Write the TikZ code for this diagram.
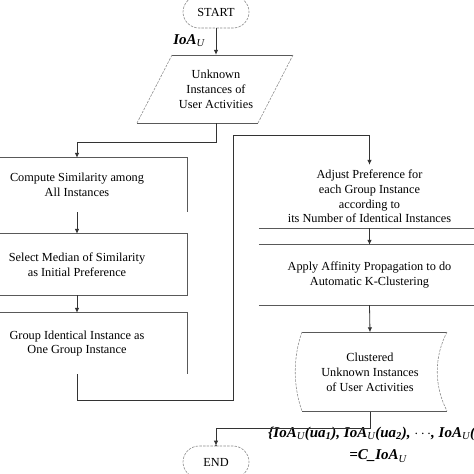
\documentclass[tikz,border=0pt]{standalone}
\usepackage{fontspec}
\setmainfont{Liberation Serif}
\usetikzlibrary{arrows.meta,shapes.misc}
\begin{document}
\begin{tikzpicture}[x=1pt,y=-1pt,
  txt/.style={font=\fontsize{12.3}{14.8}\selectfont, align=center, inner sep=0pt},
  lbl/.style={font=\fontsize{15}{17}\selectfont\bfseries\itshape, inner sep=0pt},
  edge/.style={draw=black!65, line width=0.8pt},
  flow/.style={draw=black!80, line width=0.8pt, -{Latex[length=5pt,width=4.5pt]}},
  dsh/.style={draw=black!45, line width=0.6pt, dash pattern=on 2.5pt off 1.2pt},
  term/.style={txt, shape=rounded rectangle, minimum width=66pt, minimum height=32pt, dsh},
  boxn/.style={txt, minimum width=220pt}
]
\useasboundingbox (0,0) rectangle (474,474);
\clip (0,0) rectangle (474,474);

% terminals
\node[term] (start) at (216,12) {START};
\draw[edge] ([xshift=16pt]start.north west) -- ([xshift=-16pt]start.north east);
\node[term] (end) at (216,462) {END};
\draw[edge] ([xshift=16pt]end.north west) -- ([xshift=-16pt]end.north east);

% input parallelogram
\node[txt, minimum width=120pt, minimum height=68pt] (inp) at (216,89) {Unknown\\Instances of\\User Activities};
\draw[edge] (172,55) -- (293,55);
\draw[edge] (137,123) -- (258,123);
\draw[dsh] (172,55) -- (137,123);
\draw[dsh] (293,55) -- (258,123);
\node[lbl] (ioa) at (189,41) {IoA\textsubscript{\textmd{U}}};

% left boxes
\node[boxn, minimum height=54pt] (b1) at (77,185) {Compute Similarity among\\All Instances};
\draw[edge] (b1.north west) -- (b1.north east) -- (b1.south east);
\node[boxn, minimum height=61pt] (b2) at (77,264.5) {Select Median of Similarity\\as Initial Preference};
\draw[edge] (b2.north west) -- (b2.north east) -- (b2.south east) -- (b2.south west);
\node[boxn, minimum height=61pt] (b3) at (77,343.5) {Group Identical Instance as\\One Group Instance};
\draw[edge] (b3.north west) -- (b3.north east) -- (b3.south east);

% right boxes
\node[txt, minimum width=221pt, minimum height=63pt] (r1) at (369.5,196.5) {Adjust Preference for\\each Group Instance\\according to\\its Number of Identical Instances};
\draw[edge] (r1.south west) -- (r1.south east);
\node[txt, minimum width=221pt, minimum height=60pt] (r2) at (369.5,275) {Apply Affinity Propagation to do\\Automatic K-Clustering};
\draw[edge] (r2.north west) -- (r2.north east);
\draw[edge] (r2.south west) -- (r2.south east);

% stored data shape
\node[txt, minimum width=146pt, minimum height=79pt] (dat) at (370,372) {Clustered\\Unknown Instances\\of User Activities};
\draw[edge] (302,332) -- (447,332);
\draw[edge] (302,411) -- (447,411);
\draw[dsh] (302,332) .. controls (293,357) and (293,386) .. (302,411);
\draw[dsh] (447,332) .. controls (434,357) and (434,386) .. (447,411);

% output labels
\node[lbl, anchor=west] (out1) at (268,434) {\{IoA\textsubscript{\textmd{U}}(ua\textsubscript{1}), IoA\textsubscript{\textmd{U}}(ua\textsubscript{2}), $\cdots$, IoA\textsubscript{\textmd{U}}(ua\textsubscript{n})\}};
\node[lbl] (out2) at (378,456) {=C\_IoA\textsubscript{\textmd{U}}};

% connectors
\draw[flow] (start.south) -- (inp.north);
\draw[flow] (inp.south) -- (216,142) -| (b1.north);
\draw[flow] (b1.south) -- (b2.north);
\draw[flow] (b2.south) -- (b3.north);
\draw[flow] (b3.south) -- (77,400) -- (233,400) -- (233,135) -| (r1.north);
\draw[flow] (r1.south) -- (r2.north);
\draw[flow] (r2.south) -- (dat.north);
\draw[flow] (dat.south) -- (370,428) -| (end.north);
\end{tikzpicture}
\end{document}
